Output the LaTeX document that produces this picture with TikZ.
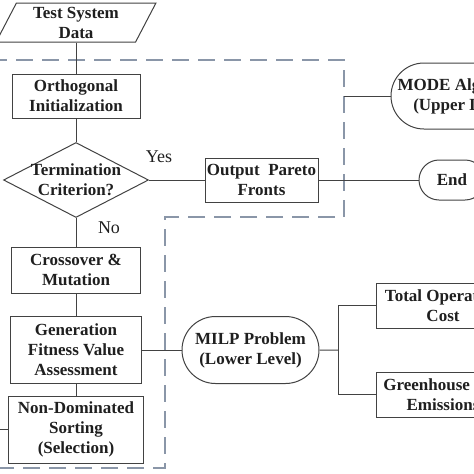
\documentclass[tikz,border=0pt]{standalone}
\usepackage{fontspec}
\setmainfont{Liberation Serif}
\usetikzlibrary{shapes.geometric,shapes.misc}

\definecolor{linegray}{RGB}{66,66,66}
\definecolor{dashblue}{RGB}{138,150,168}

\begin{document}
\begin{tikzpicture}[x=1pt, y=-1pt, line width=1pt, color=linegray,
  txt/.style={font=\bfseries\fontsize{17}{20}\selectfont, align=center, text=black!88},
  proc/.style={txt, draw, rectangle, inner sep=0pt},
  iodata/.style={txt, draw, trapezium, trapezium left angle=65, trapezium right angle=115,
    trapezium stretches=true, minimum width=160, minimum height=39, inner sep=0pt},
  decision/.style={txt, draw, diamond, aspect=1.93, inner sep=-10pt,
    minimum width=145, minimum height=75},
  stadium/.style={txt, draw, rounded rectangle, inner sep=0pt},
  lbl/.style={font=\fontsize{18}{20}\selectfont, text=black!88},
  dashbox/.style={dashblue, line width=1.1pt, dash pattern=on 17pt off 9pt}]

\useasboundingbox (0,0) rectangle (474,474);
\clip (0,0) rectangle (474,474);

% MODE steps
\node[iodata] (data) at (76,22.5) {Test System\\Data};
\node[proc, minimum width=128, minimum height=44] (ortho) at (76,96) {Orthogonal\\Initialization};
\node[decision] (term) at (76,180) {Termination\\Criterion?};
\node[proc, minimum width=129, minimum height=46] (cross) at (76,270) {Crossover \&\\Mutation};
\node[proc, minimum width=131, minimum height=67] (gen) at (76,350) {Generation\\Fitness Value\\Assessment};
\node[proc, minimum width=135, minimum height=67] (sort) at (76,429.5) {Non-Dominated\\Sorting\\(Selection)};

\node[lbl] (yes) at (159,157) {Yes};
\node[lbl] (no) at (109,228) {No};

% outputs
\node[proc, minimum width=113, minimum height=44] (out) at (261.5,180) {Output\ \ Pareto\\Fronts};
\node[stadium, minimum width=66, minimum height=40] (end) at (452,180) {End};

% levels
\node[stadium, minimum width=146, minimum height=66] (mode) at (464,96) {MODE Algorithm\\(Upper Level)};
\node[stadium, minimum width=137, minimum height=67] (milp) at (250.5,350) {MILP Problem\\(Lower Level)};
\node[proc, minimum width=134, minimum height=45] (cost) at (443,305.5) {Total Operation\\Cost};
\node[proc, minimum width=134, minimum height=45] (ghg) at (443,394.5) {Greenhouse Gas\\Emissions};

% dashed frame round the upper level
\draw[dashbox] (-10,60) -- (344,60) -- (344,217) -- (165,217) -- (165,468) -- (-10,468);
\coordinate (boxr) at (344,96);
\coordinate (fork) at (338,350);
\coordinate (loopend) at (-10,429.5);

% connectors
\draw (data) -- (ortho);
\draw (ortho) -- (term);
\draw (term) -- (cross);
\draw (cross) -- (gen);
\draw (gen) -- (sort);
\draw (sort) -- (loopend);

\draw (term) -- (out);
\draw (out) -- (end);
\draw (boxr) -- (mode);

\draw (gen) -- (milp);
\draw (milp) -- (fork);
\draw (fork) |- (cost);
\draw (fork) |- (ghg);

\end{tikzpicture}
\end{document}
